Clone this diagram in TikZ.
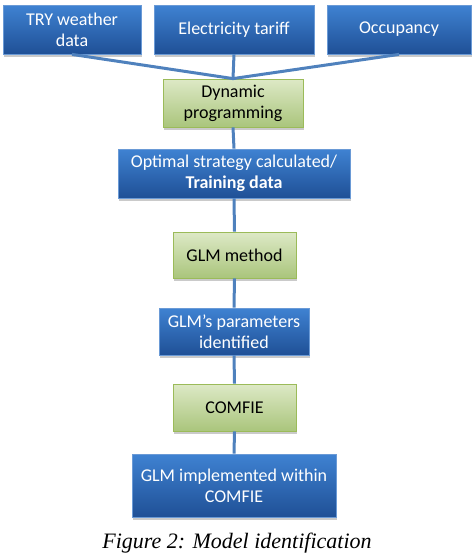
\documentclass[tikz,border=0pt]{standalone}
\usepackage{fontspec}
\setmainfont{Carlito}
\newfontfamily\capfont{Liberation Serif}
\usetikzlibrary{shadows}
\definecolor{bluetop}{HTML}{3F82D2}
\definecolor{bluebot}{HTML}{1F5096}
\definecolor{blueedge}{HTML}{6A9AD6}
\definecolor{greentop}{HTML}{DDE9C6}
\definecolor{greenbot}{HTML}{AAC57C}
\definecolor{greenedge}{HTML}{9BBB59}
\definecolor{linkcol}{HTML}{4F81BD}
\tikzset{
  box/.style={rectangle, inner sep=2pt, align=center,
    font=\fontsize{18}{21}\selectfont,
    drop shadow={shadow xshift=1pt, shadow yshift=-3pt, opacity=0.35, fill=black!60}},
  bluebox/.style={box, draw=blueedge, line width=0.8pt, top color=bluetop, bottom color=bluebot, text=white},
  greenbox/.style={box, draw=greenedge, line width=0.8pt, top color=greentop, bottom color=greenbot, text=black},
  link/.style={draw=linkcol, line width=3pt}
}
\begin{document}
\begin{tikzpicture}[x=1pt,y=-1pt]
\useasboundingbox (0,0) rectangle (474,554);
\node[bluebox, minimum width=138pt, minimum height=49pt] (try) at (72,29.5) {TRY weather\\data};
\node[bluebox, minimum width=160pt, minimum height=49pt] (elec) at (234,29.5) {Electricity tariff};
\node[bluebox, minimum width=144pt, minimum height=49pt] (occ) at (399,29.5) {Occupancy};
\node[greenbox, minimum width=140pt, minimum height=48pt] (dyn) at (233,103) {Dynamic\\programming};
\node[bluebox, minimum width=232pt, minimum height=49pt] (opt) at (234,173.5) {Optimal strategy calculated/\\\textbf{Training data}};
\node[greenbox, minimum width=123pt, minimum height=46pt] (glm) at (234.5,255) {GLM method};
\node[bluebox, minimum width=150pt, minimum height=47pt] (par) at (234,331.5) {GLM’s parameters\\identified};
\node[greenbox, minimum width=123pt, minimum height=47pt] (com) at (234.5,407.5) {COMFIE};
\node[bluebox, minimum width=204pt, minimum height=63pt] (impl) at (234,485.5) {GLM implemented within\\COMFIE};
\path[link] (try.south) -- (dyn.north);
\path[link] (occ.south) -- (dyn.north);
\path[link] (elec.south) -- (dyn.north);
\path[link] (dyn.south) -- (opt.north);
\path[link] (opt.south) -- (glm.north);
\path[link] (glm.south) -- (par.north);
\path[link] (par.south) -- (com.north);
\path[link] (com.south) -- (impl.north);
\node[anchor=base, font=\capfont\itshape\fontsize{22}{24}\selectfont, inner sep=0pt] (cap) at (237,548.5) {Figure 2: Model identification};
\end{tikzpicture}
\end{document}
